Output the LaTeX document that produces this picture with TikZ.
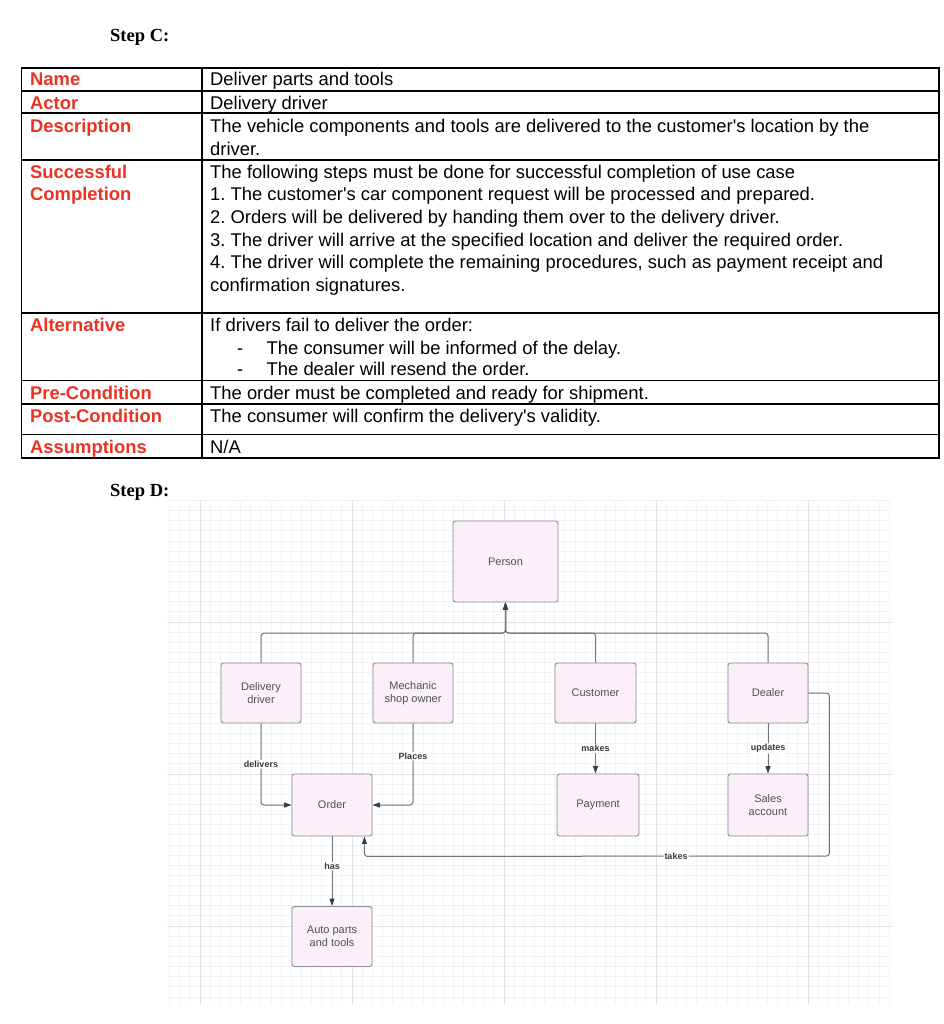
\documentclass[tikz,border=0pt]{standalone}
\usepackage{fontspec}
\setmainfont{Liberation Sans}[Ligatures=TeXOff]
\newfontfamily\stepfont{Liberation Serif}
\usetikzlibrary{calc,arrows.meta}
\frenchspacing

\definecolor{hdrred}{RGB}{234,51,35}
\definecolor{boxfill}{RGB}{251,240,249}
\definecolor{boxline}{RGB}{140,140,150}
\definecolor{boxtext}{RGB}{80,80,88}
\definecolor{linkgrey}{RGB}{115,115,125}
\definecolor{tipgrey}{RGB}{60,60,68}
\definecolor{taggrey}{RGB}{58,58,62}
\definecolor{gridminor}{RGB}{243,243,244}
\definecolor{gridmajor}{RGB}{226,226,229}

\tikzset{
	stephead/.style={anchor=base west, inner sep=0pt, font=\stepfont\bfseries\fontsize{18.5}{22}\selectfont},
	hdr/.style={anchor=base west, inner sep=0pt, text=hdrred, font=\bfseries\fontsize{18.4}{22.6}\selectfont},
	cell/.style={anchor=base west, inner sep=0pt, font=\fontsize{18.4}{22.6}\selectfont},
	rule/.style={line width=1.3pt},
	entity/.style={rectangle, rounded corners=2.5pt, draw=boxline, fill=boxfill, line width=0.9pt,
		minimum width=80pt, minimum height=60pt, inner sep=0pt, align=center, text=boxtext,
		font=\fontsize{11}{13.3}\selectfont},
	link/.style={draw=linkgrey, line width=1pt, rounded corners=3pt,
		-{Triangle[length=7.5pt,width=5pt,color=tipgrey]}},
	tag/.style={fill=white, inner sep=1pt, text=taggrey, font=\bfseries\fontsize{9}{10}\selectfont}
}

\begin{document}
\begin{tikzpicture}[x=1pt,y=-1pt]
	
	\useasboundingbox[fill=white] (0,0) rectangle (943,1024);
	
	\node (stepc) at (110,41.7) [stephead] {Step C:};
	
	% table
	\draw[rule] (21.5,68) rectangle (939,458);
	\draw[rule] (202,68) -- (202,458);
	\foreach \y in {91,113,160,313,380.5,404,434.5} {
		\draw[rule] (21.5,\y) -- (939,\y);
	}
	
	\foreach \y/\t [count=\i] in {86/Name, 109.5/Actor, 133/Description, 178.5/Successful,
		201/Completion, 331.5/Alternative, 399/Pre-Condition, 422.5/Post-Condition, 453.5/Assumptions} {
		\node (lab\i) at (30,\y) [hdr] {\t};
	}
	
	\foreach \y/\t [count=\i] in {86/{Deliver parts and tools},
		109.5/{Delivery driver},
		133/{The vehicle components and tools are delivered to the customer's location by the},
		155.5/{driver.},
		178.5/{The following steps must be done for successful completion of use case},
		201/{1. The customer's car component request will be processed and prepared.},
		223.5/{2. Orders will be delivered by handing them over to the delivery driver.},
		246/{3. The driver will arrive at the specified location and deliver the required order.},
		268.5/{4. The driver will complete the remaining procedures, such as payment receipt and},
		291.5/{confirmation signatures.},
		331.5/{If drivers fail to deliver the order:},
		399/{The order must be completed and ready for shipment.},
		422.5/{The consumer will confirm the delivery's validity.},
		453.5/{N/A}} {
		\node (val\i) at (210,\y) [cell] {\t};
	}
	
	\node (dash1) at (237,354) [cell] {-};
	\node (alt1) at (266.5,354) [cell] {The consumer will be informed of the delay.};
	\node (dash2) at (237,375.7) [cell] {-};
	\node (alt2) at (266.5,375.7) [cell] {The dealer will resend the order.};
	
	\node (stepd) at (110,496) [stephead] {Step D:};
	
	% grid
	\begin{scope}
		\clip (167,500) rectangle (892,1004);
		\foreach \i in {-18,...,54} {
			\draw[gridminor, line width=0.8pt] ({352+\i*10.1333},500) -- ({352+\i*10.1333},1004);
		}
		\foreach \j in {-12,...,38} {
			\draw[gridminor, line width=0.8pt] (167,{622+\j*10.1333}) -- (892,{622+\j*10.1333});
		}
		\foreach \i in {-1,...,3} {
			\draw[gridmajor, line width=0.9pt] ({352+\i*152},500) -- ({352+\i*152},1004);
		}
		\foreach \j in {0,1,2} {
			\draw[gridmajor, line width=0.9pt] (167,{622+\j*152}) -- (892,{622+\j*152});
		}
	\end{scope}
	
	% entities
	\node (person) at (505.5,561.5) [entity, minimum width=105pt, minimum height=81pt] {Person};
	\node (driver) at (261,693) [entity] {Delivery\\driver};
	\node (mechanic) at (413,693) [entity] {Mechanic\\shop owner};
	\node (customer) at (595.5,693) [entity, minimum width=81pt] {Customer};
	\node (dealer) at (768,693) [entity] {Dealer};
	\node (order) at (332,805) [entity, minimum height=62pt] {Order};
	\node (parts) [below of=order, node distance=131.5pt, entity] {Auto parts\\and tools};
	\node (payment) at (598,805) [entity, minimum width=82pt, minimum height=62pt] {Payment};
	\node (sales) [below of=dealer, node distance=112pt, entity, minimum height=62pt] {Sales\\account};
	
	% links
	\coordinate (bus) at (505.5,633);
	\foreach \n in {driver,mechanic,customer,dealer} {
		\draw[link] (\n.north) |- (bus) -- (person.south);
	}
	
	\draw[link] (driver.south) |- node[tag, pos=0.25] {delivers} (order.west);
	\draw[link] (mechanic.south) |- node[tag, pos=0.2] {Places} (order.east);
	\draw[link] (order.south) -- node[tag, pos=0.43] {has} (parts.north);
	\draw[link] (customer.south) -- node[tag] {makes} (customer.south |- payment.north);
	\draw[link] (dealer.south) -- node[tag] {updates} (sales.north);
	
	\coordinate (tk) at ($(order.south east)+(-8,0)$);
	\draw[link] (dealer.east) -| ($(dealer.east)+(21,163)$) -- node[tag, pos=0.33] {takes} ($(tk)+(0,20)$) -- (tk);
	
\end{tikzpicture}
\end{document}
